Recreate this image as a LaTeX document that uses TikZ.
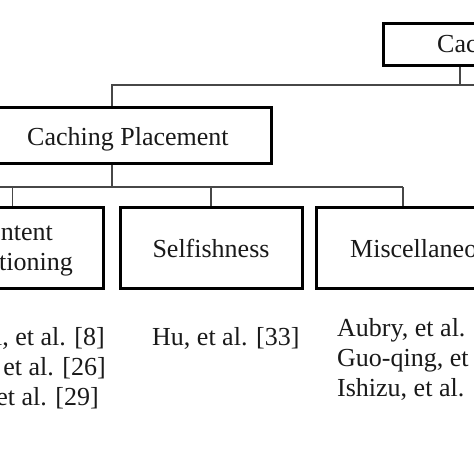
\documentclass[tikz,border=0pt]{standalone}
\usepackage{fontspec}
\setmainfont{Liberation Serif}
\begin{document}
\begin{tikzpicture}[x=1pt,y=-1pt,
  box/.style={draw=black,line width=3pt,rectangle,inner sep=0pt},
  conn/.style={draw=black!72,line width=1.3pt},
  txt/.style={inner sep=0pt,text=black!90,font=\fontsize{26}{30}\selectfont}]
\useasboundingbox (0,0) rectangle (474,474);
\clip (0,0) rectangle (474,474);
% boxes
\node[box,minimum width=154pt,minimum height=42pt] (root) at (460,44) {};
\node[box,minimum width=285pt,minimum height=56pt] (cp) at (128.5,135) {};
\node[box,minimum width=181pt,minimum height=81pt] (c1) at (12.5,247.5) {};
\node[box,minimum width=182pt,minimum height=81pt] (c2) at (211,247.5) {};
\node[box,minimum width=218pt,minimum height=81pt] (c3) at (425,247.5) {};
% connector points
\coordinate (jR) at (490,85);
\coordinate (jL) at (112,85);
\coordinate (k) at (112,187);
\coordinate (kL) at (-10,187);
\coordinate (k3) at (403,187);
% connectors
\draw[conn] (root.south) -- (root.south |- jR);
\draw[conn] (jR) -- (jL) -- (jL |- cp.north);
\draw[conn] (k |- cp.south) -- (k);
\draw[conn] (kL) -- (k3);
\draw[conn] (c1.north |- k) -- (c1.north);
\draw[conn] (c2.north |- k) -- (c2.north);
\draw[conn] (k3) -- (k3 |- c3.north);
% box texts
\node[txt,anchor=base west] (trt) at (437,52) {Cac};
\node[txt,anchor=base west] (tcp) at (27,145) {Caching Placement};
\node[txt,anchor=base east] (tc1a) at (53,240) {ntent};
\node[txt,anchor=base east] (tc1b) at (73,270) {tioning};
\node[txt,anchor=base] (tc2) at (211,257) {Selfishness};
\node[txt,anchor=base west] (tc3) at (350,257) {Miscellaneo};
% references
\node[txt,anchor=base east] (r1a) at (105,345) {l, et al. [8]};
\node[txt,anchor=base east] (r1b) at (106,375) {et al. [26]};
\node[txt,anchor=base east] (r1c) at (99,405) {et al. [29]};
\node[txt,anchor=base west] (r2a) at (152,345) {Hu, et al. [33]};
\node[txt,anchor=base west] (r3a) at (337,336) {Aubry, et al.};
\node[txt,anchor=base west] (r3b) at (337,366) {Guo-qing, et};
\node[txt,anchor=base west] (r3c) at (337,396) {Ishizu, et al.};
\end{tikzpicture}
\end{document}
